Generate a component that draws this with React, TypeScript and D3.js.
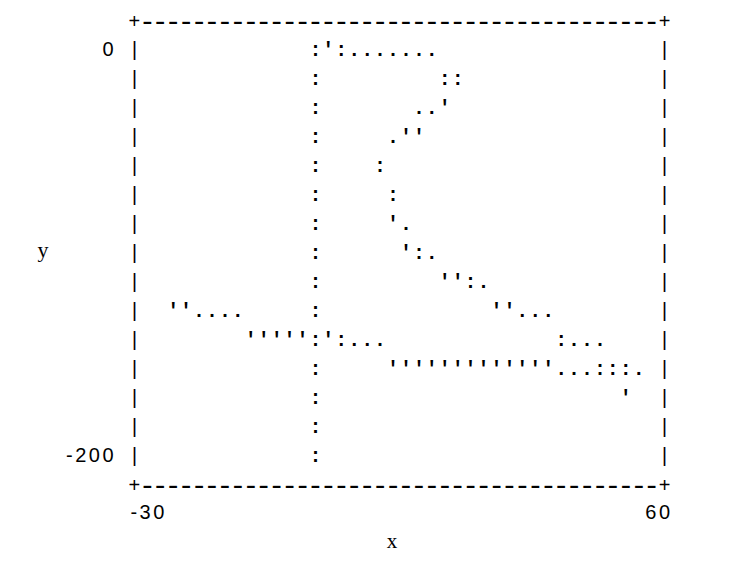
import { useEffect, useRef } from "react"
import * as d3 from "d3"

// upper loop of the curve (x, y pairs)
const loopX = [
  2.9, 5.1, 5.1, 7.3, 9.5, 11.7, 13.9, 16.1, 18.3, 20.5,
  22.7, 22.7, 24.9, 24.9,
  22.7, 20.5, 18.3,
  18.3, 16.1, 13.9,
  11.7, 11.7,
  13.9, 13.9,
  13.9, 16.1,
  16.1, 18.3, 18.3, 20.5,
  22.7, 24.9, 27.1, 27.1, 29.3,
  31.5, 33.7, 35.9, 38.0, 40.2,
  42.4, 42.4, 44.6, 46.8, 49.0,
  49.0, 51.2, 53.4,
  53.4,
]
const loopY = [
  4, 4, -4, -4, -4, -4, -4, -4, -4, -4,
  -11, -18, -11, -18,
  -25, -32, -32,
  -39, -39, -46,
  -54, -61,
  -68, -75,
  -82, -89,
  -96, -96, -104, -104,
  -111, -111, -111, -118, -118,
  -125, -125, -132, -132, -132,
  -139, -146, -146, -146, -146,
  -154, -154, -154,
  -168,
]

// lower stroke running from the left edge to the right
const strokeX = [
  -23.4, -21.2, -19.0, -16.8, -14.6, -12.4,
  -10.2, -8.0, -5.9, -3.7, -1.5, 2.9, 5.1, 5.1, 7.3, 9.5, 11.7,
  13.9, 16.1, 18.3, 20.5, 22.7, 24.9, 27.1, 29.3, 31.5, 33.7, 35.9, 38.0, 40.2,
  42.4, 44.6, 46.8, 49.0, 51.2, 53.4, 55.6,
]
const strokeY = [
  -125, -125, -132, -132, -132, -132,
  -139, -139, -139, -139, -139, -139, -139, -146, -146, -146, -146,
  -154, -154, -154, -154, -154, -154, -154, -154, -154, -154, -154, -154, -154,
  -161, -161, -161, -161, -161, -161, -161,
]

// points along x = 0
const zeroLineY = [
  4, -4, -11, -18, -25, -32, -39, -46, -54, -61, -68, -75, -82, -89, -96,
  -104, -111, -118, -125, -132, -139, -146, -154, -161, -168, -175, -182, -189, -196, -204,
]

const xTicks = [-30, 60]
const yTicks = [0, -200]

export default function App() {
  const svgRef = useRef<SVGSVGElement>(null)

  useEffect(() => {
    if (!svgRef.current) return
    const svg = d3.select(svgRef.current)
    svg.selectAll("*").remove()

    const ncol = 41 // character cells between the two borders
    const nrow = 14
    const x = d3.scaleLinear().domain([-30, 60]).range([134.4, 664.6])
    const y = d3.scaleLinear().domain([0, -200]).range([51.2, 457.2])
    const pitchX = (x(60) - x(-30)) / ncol
    const pitchY = (y(-200) - y(0)) / nrow
    const mono = "'Liberation Mono', 'DejaVu Sans Mono', monospace"
    const sans = "'Liberation Sans', Arial, sans-serif"
    const serif = "'Liberation Serif', 'Times New Roman', serif"
    const fs = 20
    const base = 5 // baseline below the row centre

    // bin every point into a character cell, two halves per cell
    const points: [number, number][] = []
    loopX.forEach((v, i) => points.push([v, loopY[i]]))
    strokeX.forEach((v, i) => points.push([v, strokeY[i]]))
    zeroLineY.forEach((v) => points.push([0, v]))

    const cells = new Map<string, { c: number; r: number; up: boolean; low: boolean }>()
    points.forEach(([px, py]) => {
      const c = Math.round((x(px) - x(-30)) / pitchX)
      const k = Math.round(((y(py) - y(0)) / pitchY) * 2 + 0.5)
      const r = Math.floor(k / 2)
      const key = `${c},${r}`
      const cell = cells.get(key) || { c, r, up: false, low: false }
      if (k % 2 === 0) cell.up = true
      else cell.low = true
      cells.set(key, cell)
    })

    const colX = (c: number) => x(-30) + c * pitchX
    const rowY = (r: number) => y(0) + r * pitchY

    const g = svg.append("g").attr("font-family", mono).attr("font-size", fs).attr("fill", "#000")

    g.selectAll("text.mark")
      .data(Array.from(cells.values()))
      .join("text")
      .attr("class", "mark")
      .attr("x", (d) => colX(d.c))
      .attr("y", (d) => rowY(d.r) + base)
      .attr("text-anchor", "middle")
      .attr("font-weight", "bold")
      .text((d) => (d.up && d.low ? ":" : d.up ? "'" : "."))

    // frame: side bars, corner pluses and a dashed run on top and bottom
    const sides: { c: number; r: number }[] = []
    for (let r = 0; r <= nrow; r++) {
      sides.push({ c: 0, r })
      sides.push({ c: ncol, r })
    }
    g.selectAll("text.side")
      .data(sides)
      .join("text")
      .attr("class", "side")
      .attr("x", (d) => colX(d.c))
      .attr("y", (d) => rowY(d.r) + base)
      .attr("text-anchor", "middle")
      .text("|")

    const corners = [
      { c: 0, r: -1 },
      { c: ncol, r: -1 },
      { c: 0, r: nrow + 1 },
      { c: ncol, r: nrow + 1 },
    ]
    g.selectAll("text.corner")
      .data(corners)
      .join("text")
      .attr("class", "corner")
      .attr("x", (d) => colX(d.c))
      .attr("y", (d) => rowY(d.r) + 5.5)
      .attr("text-anchor", "middle")
      .attr("font-family", sans)
      .attr("font-size", 20)
      .text("+")

    const dashFs = 28
    const dashAdv = dashFs * 0.6
    g.selectAll("text.dash")
      .data([-1, nrow + 1])
      .join("text")
      .attr("class", "dash")
      .attr("x", colX(1) - dashAdv / 2)
      .attr("y", (r) => rowY(r) + 8)
      .attr("font-size", dashFs)
      .attr("letter-spacing", pitchX - dashAdv)
      .text("-".repeat(ncol - 1))

    // y tick labels
    svg
      .append("g")
      .selectAll("text")
      .data(yTicks)
      .join("text")
      .attr("x", 116)
      .attr("y", (d) => y(d) + 5)
      .attr("text-anchor", "end")
      .attr("font-family", sans)
      .attr("font-size", 20)
      .attr("letter-spacing", 2.5)
      .text((d) => String(d))

    // x tick labels
    svg
      .append("g")
      .selectAll("text")
      .data(xTicks)
      .join("text")
      .attr("x", (d, i) => (i === 0 ? x(d) - 4 : x(d) + 8))
      .attr("y", 519)
      .attr("text-anchor", (d, i) => (i === 0 ? "start" : "end"))
      .attr("font-family", sans)
      .attr("font-size", 20)
      .attr("letter-spacing", 2.5)
      .text((d) => String(d))

    svg
      .append("text")
      .attr("x", 392)
      .attr("y", 548)
      .attr("text-anchor", "middle")
      .attr("font-family", serif)
      .attr("font-size", 21)
      .text("x")

    svg
      .append("text")
      .attr("x", 43)
      .attr("y", 257)
      .attr("text-anchor", "middle")
      .attr("font-family", serif)
      .attr("font-size", 22)
      .text("y")
  }, [])

  return (
    <svg
      ref={svgRef}
      width={748}
      height={567}
      style={{ position: "absolute", left: 0, top: 0, background: "#fff" }}
    />
  )
}
